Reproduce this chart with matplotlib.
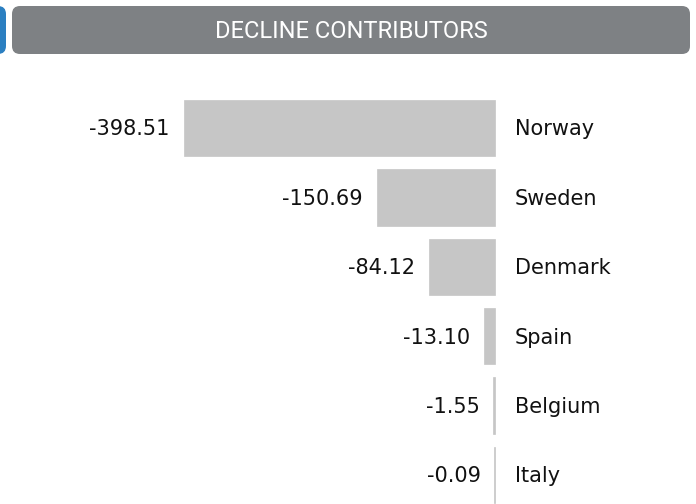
import matplotlib.pyplot as plt
from matplotlib.patches import FancyBboxPatch

countries = ["Norway", "Sweden", "Denmark", "Spain", "Belgium", "Italy"]
values = [-398.51, -150.69, -84.12, -13.10, -1.55, -0.09]
title = "DECLINE CONTRIBUTORS"

W, H = 696, 504
fig = plt.figure(figsize=(W / 100, H / 100), dpi=100)

# main axes spans the whole canvas; limits chosen so zero sits at x=495px
px_per_unit = 0.78
ax = fig.add_axes([0, 0, 1, 1])
ax.set_xlim(-494.5 / px_per_unit, (W - 494.5) / px_per_unit)
pitch = 69.4
ax.set_ylim(len(values) - 1 + (H - 475) / pitch, -128 / pitch)
ax.axis("off")

ypos = list(range(len(values)))
ax.barh(ypos, values, height=0.81, color="#c6c6c6",
        edgecolor="#c6c6c6", linewidth=0.5)

for y, v, name in zip(ypos, values, countries):
    ax.annotate(f"{v:.2f}", xy=(v, y), xytext=(-10, -1),
                textcoords="offset points", ha="right", va="center",
                fontsize=15, color="#111111", family="DejaVu Sans")
    ax.annotate(name, xy=(0, y), xytext=(14.5, -1),
                textcoords="offset points", ha="left", va="center",
                fontsize=15, color="#111111", family="DejaVu Sans")

# header bar
def px_box(x0, y0, x1, y1, color, pad=8):
    box = FancyBboxPatch((x0 / W, 1 - y1 / H), (x1 - x0) / W, (y1 - y0) / H,
                         boxstyle=f"round,pad=0,rounding_size={pad / W}",
                         transform=fig.transFigure, facecolor=color,
                         edgecolor="none", mutation_aspect=W / H)
    fig.patches.append(box)

px_box(-40, 6, 6, 54, "#2b7fc1")
px_box(12, 6, 690, 54, "#7e8184")
fig.text((12 + 690) / 2 / W, 1 - 31 / H, title, ha="center", va="center",
         color="white", fontsize=17, family="Roboto")

fig.savefig("out.png", dpi=100)
